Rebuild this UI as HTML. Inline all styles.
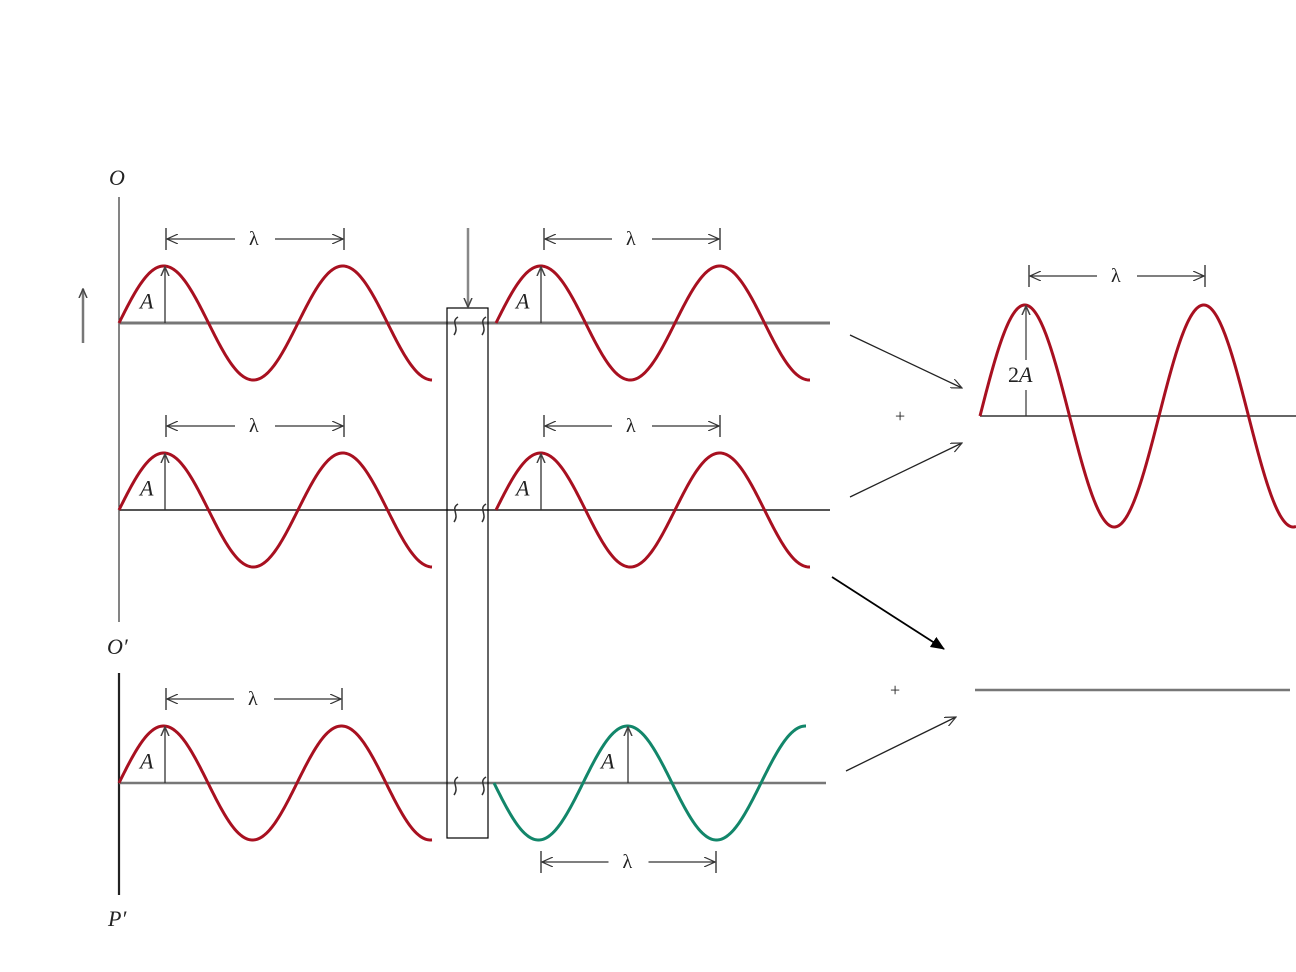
<!DOCTYPE html>
<html><head><meta charset="utf-8"><style>
html,body{margin:0;padding:0;background:#fff;width:1296px;height:972px;overflow:hidden}
svg{display:block}
text{font-family:"Liberation Serif",serif;font-style:italic;fill:#222}
</style></head><body>
<svg id="s" width="1296" height="972" viewBox="0 0 1296 972" xmlns="http://www.w3.org/2000/svg">
<defs>
<marker id="oa" markerWidth="12" markerHeight="10" refX="11" refY="5" orient="auto" markerUnits="userSpaceOnUse"><path d="M0,0 L11,5 L0,10" fill="none" stroke="#333" stroke-width="1.2"/></marker>
<marker id="fa" markerWidth="14" markerHeight="12" refX="13" refY="6" orient="auto" markerUnits="userSpaceOnUse"><path d="M0,0 L14,6 L0,12 z" fill="#000"/></marker>
<marker id="sa" markerWidth="10" markerHeight="10" refX="9" refY="5" orient="auto" markerUnits="userSpaceOnUse"><path d="M0,1 L9,5 L0,9" fill="none" stroke="#444" stroke-width="1.5"/></marker>
</defs>
<!-- axes lines -->
<line x1="119" y1="197" x2="119" y2="622" stroke="#333" stroke-width="1.2"/>
<line x1="119" y1="673" x2="119" y2="895" stroke="#222" stroke-width="2.2"/>
<line x1="119" y1="323" x2="830" y2="323" stroke="#777" stroke-width="3"/>
<line x1="119" y1="510" x2="830" y2="510" stroke="#555" stroke-width="2"/>
<line x1="119" y1="783" x2="826" y2="783" stroke="#777" stroke-width="2.5"/>
<line x1="980" y1="416" x2="1296" y2="416" stroke="#333" stroke-width="1.5"/>
<line x1="975" y1="690" x2="1290" y2="690" stroke="#777" stroke-width="2.5"/>
<!-- box -->
<rect x="447" y="308" width="41" height="530" fill="none" stroke="#000" stroke-width="1.2"/>
<g id="waves"></g>
<!-- labels -->
<text x="109" y="185" font-size="22">O</text>
<text x="107" y="654" font-size="22">O′</text>
<text x="108" y="926" font-size="22">P′</text>
<!-- up arrow left -->
<line x1="83" y1="343" x2="83" y2="289" stroke="#777" stroke-width="2.5" marker-end="url(#sa)"/>
<!-- down arrow -->
<line x1="468" y1="228" x2="468" y2="307" stroke="#888" stroke-width="2.5" marker-end="url(#sa)"/>
<!-- connector arrows -->
<line x1="850" y1="335" x2="962" y2="388" stroke="#222" stroke-width="1.3" marker-end="url(#oa)"/>
<line x1="850" y1="497" x2="962" y2="443" stroke="#222" stroke-width="1.3" marker-end="url(#oa)"/>
<line x1="832" y1="577" x2="944" y2="649" stroke="#000" stroke-width="1.8" marker-end="url(#fa)"/>
<line x1="846" y1="771" x2="956" y2="717" stroke="#222" stroke-width="1.3" marker-end="url(#oa)"/>
<text x="895" y="422" font-size="18" style="font-style:normal">+</text>
<text x="890" y="696" font-size="18" style="font-style:normal">+</text>
<text x="1008" y="382" font-size="22" style="font-style:normal">2<tspan font-style="italic">A</tspan></text>
</svg>
<script>
var NS="http://www.w3.org/2000/svg",g=document.getElementById("waves");
function el(t,a){var e=document.createElementNS(NS,t);for(var k in a)e.setAttribute(k,a[k]);g.appendChild(e);return e;}
function wave(x0,x1,y,A,lam,sign,col){var d="";for(var x=x0;x<=x1;x+=1){var yy=y-sign*A*Math.sin(2*Math.PI*(x-x0)/lam);d+=(x==x0?"M":"L")+x+","+yy.toFixed(2);}el("path",{d:d,fill:"none",stroke:col,"stroke-width":3});}
var R="#a81020",G="#12866a";
wave(119,432,323,57,179,1,R);wave(496,810,323,57,179,1,R);
wave(119,432,510,57,179,1,R);wave(496,810,510,57,179,1,R);
wave(119,432,783,57,178,1,R);wave(494,806,783,57,178,-1,G);
wave(980,1296,416,111,179,1,R);
function lam(x1,x2,y){el("line",{x1:x1,y1:y-11,x2:x1,y2:y+11,stroke:"#444","stroke-width":1.5});el("line",{x1:x2,y1:y-11,x2:x2,y2:y+11,stroke:"#444","stroke-width":1.5});var m=(x1+x2)/2;
el("line",{x1:m-20,y1:y,x2:x1+1,y2:y,stroke:"#333","stroke-width":1.3,"marker-end":"url(#oa)"});el("line",{x1:m+20,y1:y,x2:x2-1,y2:y,stroke:"#333","stroke-width":1.3,"marker-end":"url(#oa)"});
var t=el("text",{x:m-6,y:y+6,"font-size":20});t.textContent="λ";t.style.fontStyle="normal";}
lam(166,344,239);lam(544,720,239);lam(166,344,426);lam(544,720,426);lam(166,342,699);lam(541,716,862);lam(1029,1205,276);
function amp(x,y0,y1,lx){el("line",{x1:x,y1:y0,x2:x,y2:y1+1,stroke:"#333","stroke-width":1.3,"marker-end":"url(#sa)"});if(lx){var t=el("text",{x:lx,y:(y0+y1)/2+14,"font-size":22});t.textContent="A";}}
amp(165,323,266,140);amp(541,323,266,516);amp(165,510,453,140);amp(541,510,453,516);amp(165,783,726,140);amp(628,783,726,601);
el("line",{x1:1026,y1:360,x2:1026,y2:306,stroke:"#333","stroke-width":1.2,"marker-end":"url(#sa)"});el("line",{x1:1026,y1:390,x2:1026,y2:416,stroke:"#333","stroke-width":1.2});
function sq(x,y){el("path",{d:"M"+(x+3)+","+(y-8)+" C"+(x-5)+","+(y-3)+" "+(x+5)+","+(y+2)+" "+(x-1)+","+(y+10),fill:"none",stroke:"#333","stroke-width":1.5});}
[323,510,783].forEach(function(y){sq(455,y+2);sq(483,y+2);});
</script>
</body></html>
